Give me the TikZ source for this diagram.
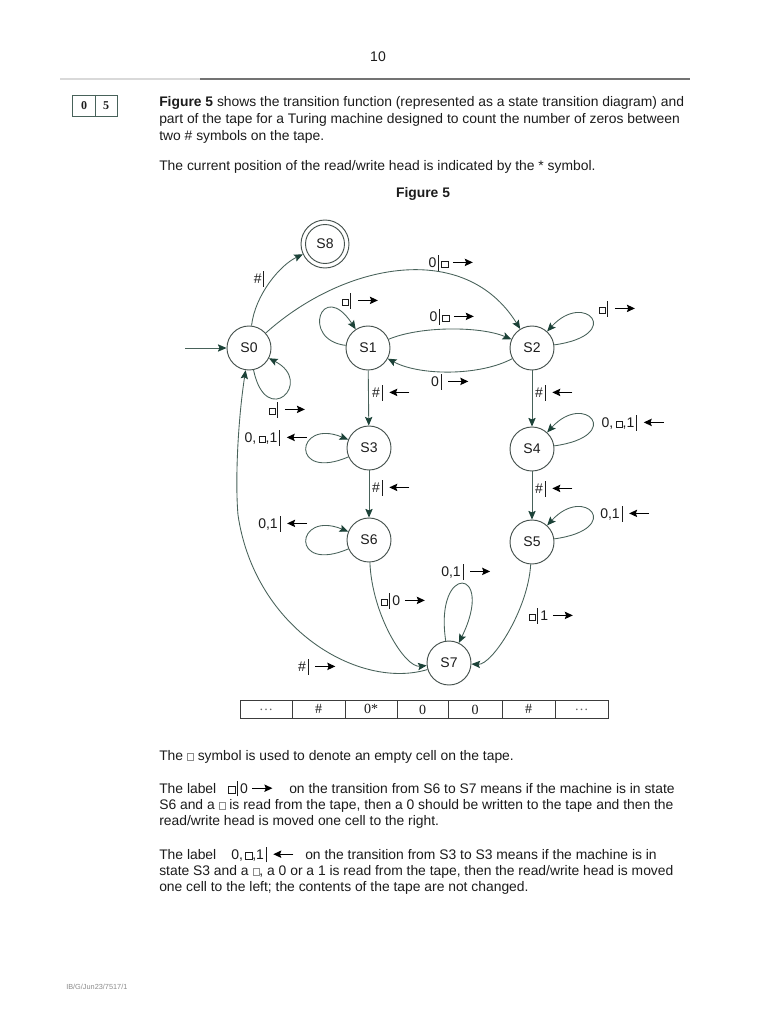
\documentclass[tikz,border=0pt]{standalone}
\usepackage{fontspec}
\setmainfont{Liberation Sans}
\newfontfamily\tapefont{Liberation Serif}
\usetikzlibrary{arrows.meta}
\definecolor{edgecol}{RGB}{72,98,90}
\definecolor{tipcol}{RGB}{28,66,56}
\definecolor{circcol}{RGB}{70,82,78}
\definecolor{txtcol}{RGB}{28,28,28}
\definecolor{tapecol}{RGB}{60,60,60}
\newcommand{\mysq}{\tikz[baseline=0pt]\draw[line width=0.45pt,txtcol] (0pt,0pt) rectangle (4.8pt,4.8pt);}
\newcommand{\mygsq}{\tikz[baseline=0pt]\draw[line width=0.4pt,black!45] (0pt,0pt) rectangle (4.8pt,4.8pt);}
\newcommand{\mybar}{\hspace{1.3pt}\rule[-2.6pt]{0.7pt}{11.5pt}\hspace{1.6pt}}
\newcommand{\myra}{\hspace{3pt}\tikz[baseline=-3.6pt]\draw[line width=0.85pt,black,-{Stealth[length=6pt,width=5.5pt,inset=1pt]}] (0pt,0pt)--(15pt,0pt);}
\newcommand{\myla}{\hspace{3pt}\tikz[baseline=-3.6pt]\draw[line width=0.85pt,black,-{Stealth[length=6pt,width=5.5pt,inset=1pt]}] (15pt,0pt)--(0pt,0pt);}
\begin{document}
\begin{tikzpicture}[x=0.75pt,y=-0.75pt,
  state/.style={circle,draw=circcol,line width=0.7pt,minimum size=33pt,inner sep=0pt,font=\fontsize{10.5}{12}\selectfont,text=txtcol},
  tr/.style={draw=edgecol,line width=0.65pt,-{Stealth[length=6.5pt,width=5.5pt,inset=1.2pt,color=tipcol]}},
  lab/.style={inner sep=0pt,font=\fontsize{10.5}{12}\selectfont,text=txtcol},
  body/.style={inner sep=0pt,anchor=base west,font=\fontsize{10.4}{12}\selectfont,text=txtcol},
  tape/.style={inner sep=0pt,font=\tapefont\fontsize{10.5}{12}\selectfont,text=txtcol}]
\useasboundingbox[fill=white] (0,0) rectangle (768,1024);
% header
\node[inner sep=0pt,font=\fontsize{10.5}{12}\selectfont,text=txtcol] (pg) at (378,57) {10};
\draw[black!15,line width=0.8pt] (60,79) -- (200,79);
\draw[black!55,line width=0.9pt] (200,79) -- (690,79);
\draw[edgecol,line width=0.7pt] (72,95) rectangle (117,116);
\draw[edgecol,line width=0.7pt] (95,95) -- (95,116);
\node[inner sep=0pt,font=\tapefont\bfseries\fontsize{9}{10}\selectfont,text=txtcol] (q0) at (84,105.5) {0};
\node[inner sep=0pt,font=\tapefont\bfseries\fontsize{9}{10}\selectfont,text=txtcol] (q5) at (106,105.5) {5};
\node[body] (p1) at (159,106) {\textbf{Figure 5} shows the transition function (represented as a state transition diagram) and};
\node[body] (p2) at (159,123) {part of the tape for a Turing machine designed to count the number of zeros between};
\node[body] (p3) at (159,140) {two \# symbols on the tape.};
\node[body] (p4) at (159,170) {The current position of the read/write head is indicated by the * symbol.};
\node[inner sep=0pt,font=\bfseries\fontsize{10.4}{12}\selectfont,text=txtcol] (fig) at (423,194) {Figure 5};
% states
\node[state,minimum size=36pt] (S8) at (325,244) {S8};
\draw[circcol,line width=0.7pt] (S8.center) circle[radius=19.5];
\node[state] (S0) at (249,348) {S0};
\node[state] (S1) at (368,348) {S1};
\node[state] (S2) at (532,348) {S2};
\node[state] (S3) at (369,448) {S3};
\node[state] (S4) at (532,449) {S4};
\node[state] (S6) at (369,540) {S6};
\node[state] (S5) at (532,542) {S5};
\node[state] (S7) at (449,663) {S7};
% transitions
\coordinate (in0) at (185,348);
\draw[tr] (in0) -- (S0);
\draw[tr] (S0) .. controls (255,295) and (280,265) .. (S8);
\draw[tr] (S0) .. controls (345,262) and (465,240) .. (S2);
\draw[tr] (S1) .. controls (300,340) and (322,278) .. (S1);
\draw[tr] (S1) .. controls (420,326) and (480,326) .. (S2);
\draw[tr] (S2) .. controls (480,376) and (420,376) .. (S1);
\draw[tr] (S2) .. controls (625,335) and (585,290) .. (S2);
\draw[tr] (S0) .. controls (266,430) and (315,382) .. (S0);
\draw[tr] (S1) -- (S3);
\draw[tr] (S2) -- (S4);
\draw[tr] (S3) .. controls (290,482) and (295,418) .. (S3);
\draw[tr] (S4) .. controls (625,436) and (585,391) .. (S4);
\draw[tr] (S3) -- (S6);
\draw[tr] (S4) -- (S5);
\draw[tr] (S6) .. controls (290,574) and (295,510) .. (S6);
\draw[tr] (S5) .. controls (625,529) and (585,484) .. (S5);
\draw[tr] (S6) .. controls (372,615) and (405,668) .. (S7);
\draw[tr] (S5) .. controls (528,610) and (492,665) .. (S7);
\draw[tr] (S7) .. controls (434,562) and (496,567) .. (S7);
\draw[tr] (S7) .. controls (360,690) and (255,630) .. (238,515) .. controls (235,480) and (238,420) .. (S0);
% labels
\node[lab] (l08) at (259,279) {\#\mybar};
\node[lab] (l02) at (451,263) {0\mybar\mysq\myra};
\node[lab] (l11) at (360,301) {\mysq\mybar\myra};
\node[lab] (l12) at (452,317) {0\mybar\mysq\myra};
\node[lab] (l21) at (450,382) {0\mybar\myra};
\node[lab] (l00) at (287,410) {\mysq\mybar\myra};
\node[lab] (l13) at (391,393) {\#\mybar\myla};
\node[lab] (l22) at (617,309) {\mysq\mybar\myra};
\node[lab] (l24) at (554,393) {\#\mybar\myla};
\node[lab] (l44) at (633,423) {0,\,\mysq,1\mybar\myla};
\node[lab] (l45) at (554,489) {\#\mybar\myla};
\node[lab] (l55) at (625,514) {0,1\mybar\myla};
\node[lab] (l33) at (276,438) {0,\,\mysq,1\mybar\myla};
\node[lab] (l36) at (391,488) {\#\mybar\myla};
\node[lab] (l66) at (283,524) {0,1\mybar\myla};
\node[lab] (l77) at (466,572) {0,1\mybar\myra};
\node[lab] (l67) at (403,601) {\mysq\mybar 0\myra};
\node[lab] (l57) at (551,616) {\mysq\mybar 1\myra};
\node[lab] (l70) at (317,667) {\#\mybar\myra};
% tape
\draw[tapecol,line width=0.6pt] (240,700) rectangle (608,718);
\foreach \xx in {292,345,397,448,502,555} \draw[tapecol,line width=0.6pt] (\xx,700) -- (\xx,718);
\node[tape,text=black!60] (t1) at (266,710) {\dots};
\node[tape] (t2) at (318.5,709) {\#};
\node[tape] (t3) at (371,709) {0*};
\node[tape] (t4) at (422.5,709.5) {0};
\node[tape] (t5) at (475,709.5) {0};
\node[tape] (t6) at (528.5,709) {\#};
\node[tape,text=black!60] (t7) at (581.5,710) {\dots};
% bottom text
\node[body] (b1) at (159,760) {The \mygsq\ symbol is used to denote an empty cell on the tape.};
\node[body] (b2a) at (159,793) {The label};
\node[lab,anchor=base west] (b2b) at (228,793) {\mysq\mybar 0\myra};
\node[body] (b2c) at (289,793) {on the transition from S6 to S7 means if the machine is in state};
\node[body] (b3) at (159,809) {S6 and a \mygsq\ is read from the tape, then a 0 should be written to the tape and then the};
\node[body] (b4) at (159,825) {read/write head is moved one cell to the right.};
\node[body] (b5a) at (159,859) {The label};
\node[lab,anchor=base west] (b5b) at (231,859) {0,\,\mysq,1\mybar\myla};
\node[body] (b5c) at (305,859) {on the transition from S3 to S3 means if the machine is in};
\node[body] (b6) at (159,875) {state S3 and a \mygsq, a 0 or a 1 is read from the tape, then the read/write head is moved};
\node[body] (b7) at (159,891) {one cell to the left; the contents of the tape are not changed.};
% footer
\node[inner sep=0pt,anchor=west,font=\fontsize{5.5}{6}\selectfont,text=black!45] (ft) at (66,987) {IB/G/Jun23/7517/1};
\end{tikzpicture}
\end{document}
